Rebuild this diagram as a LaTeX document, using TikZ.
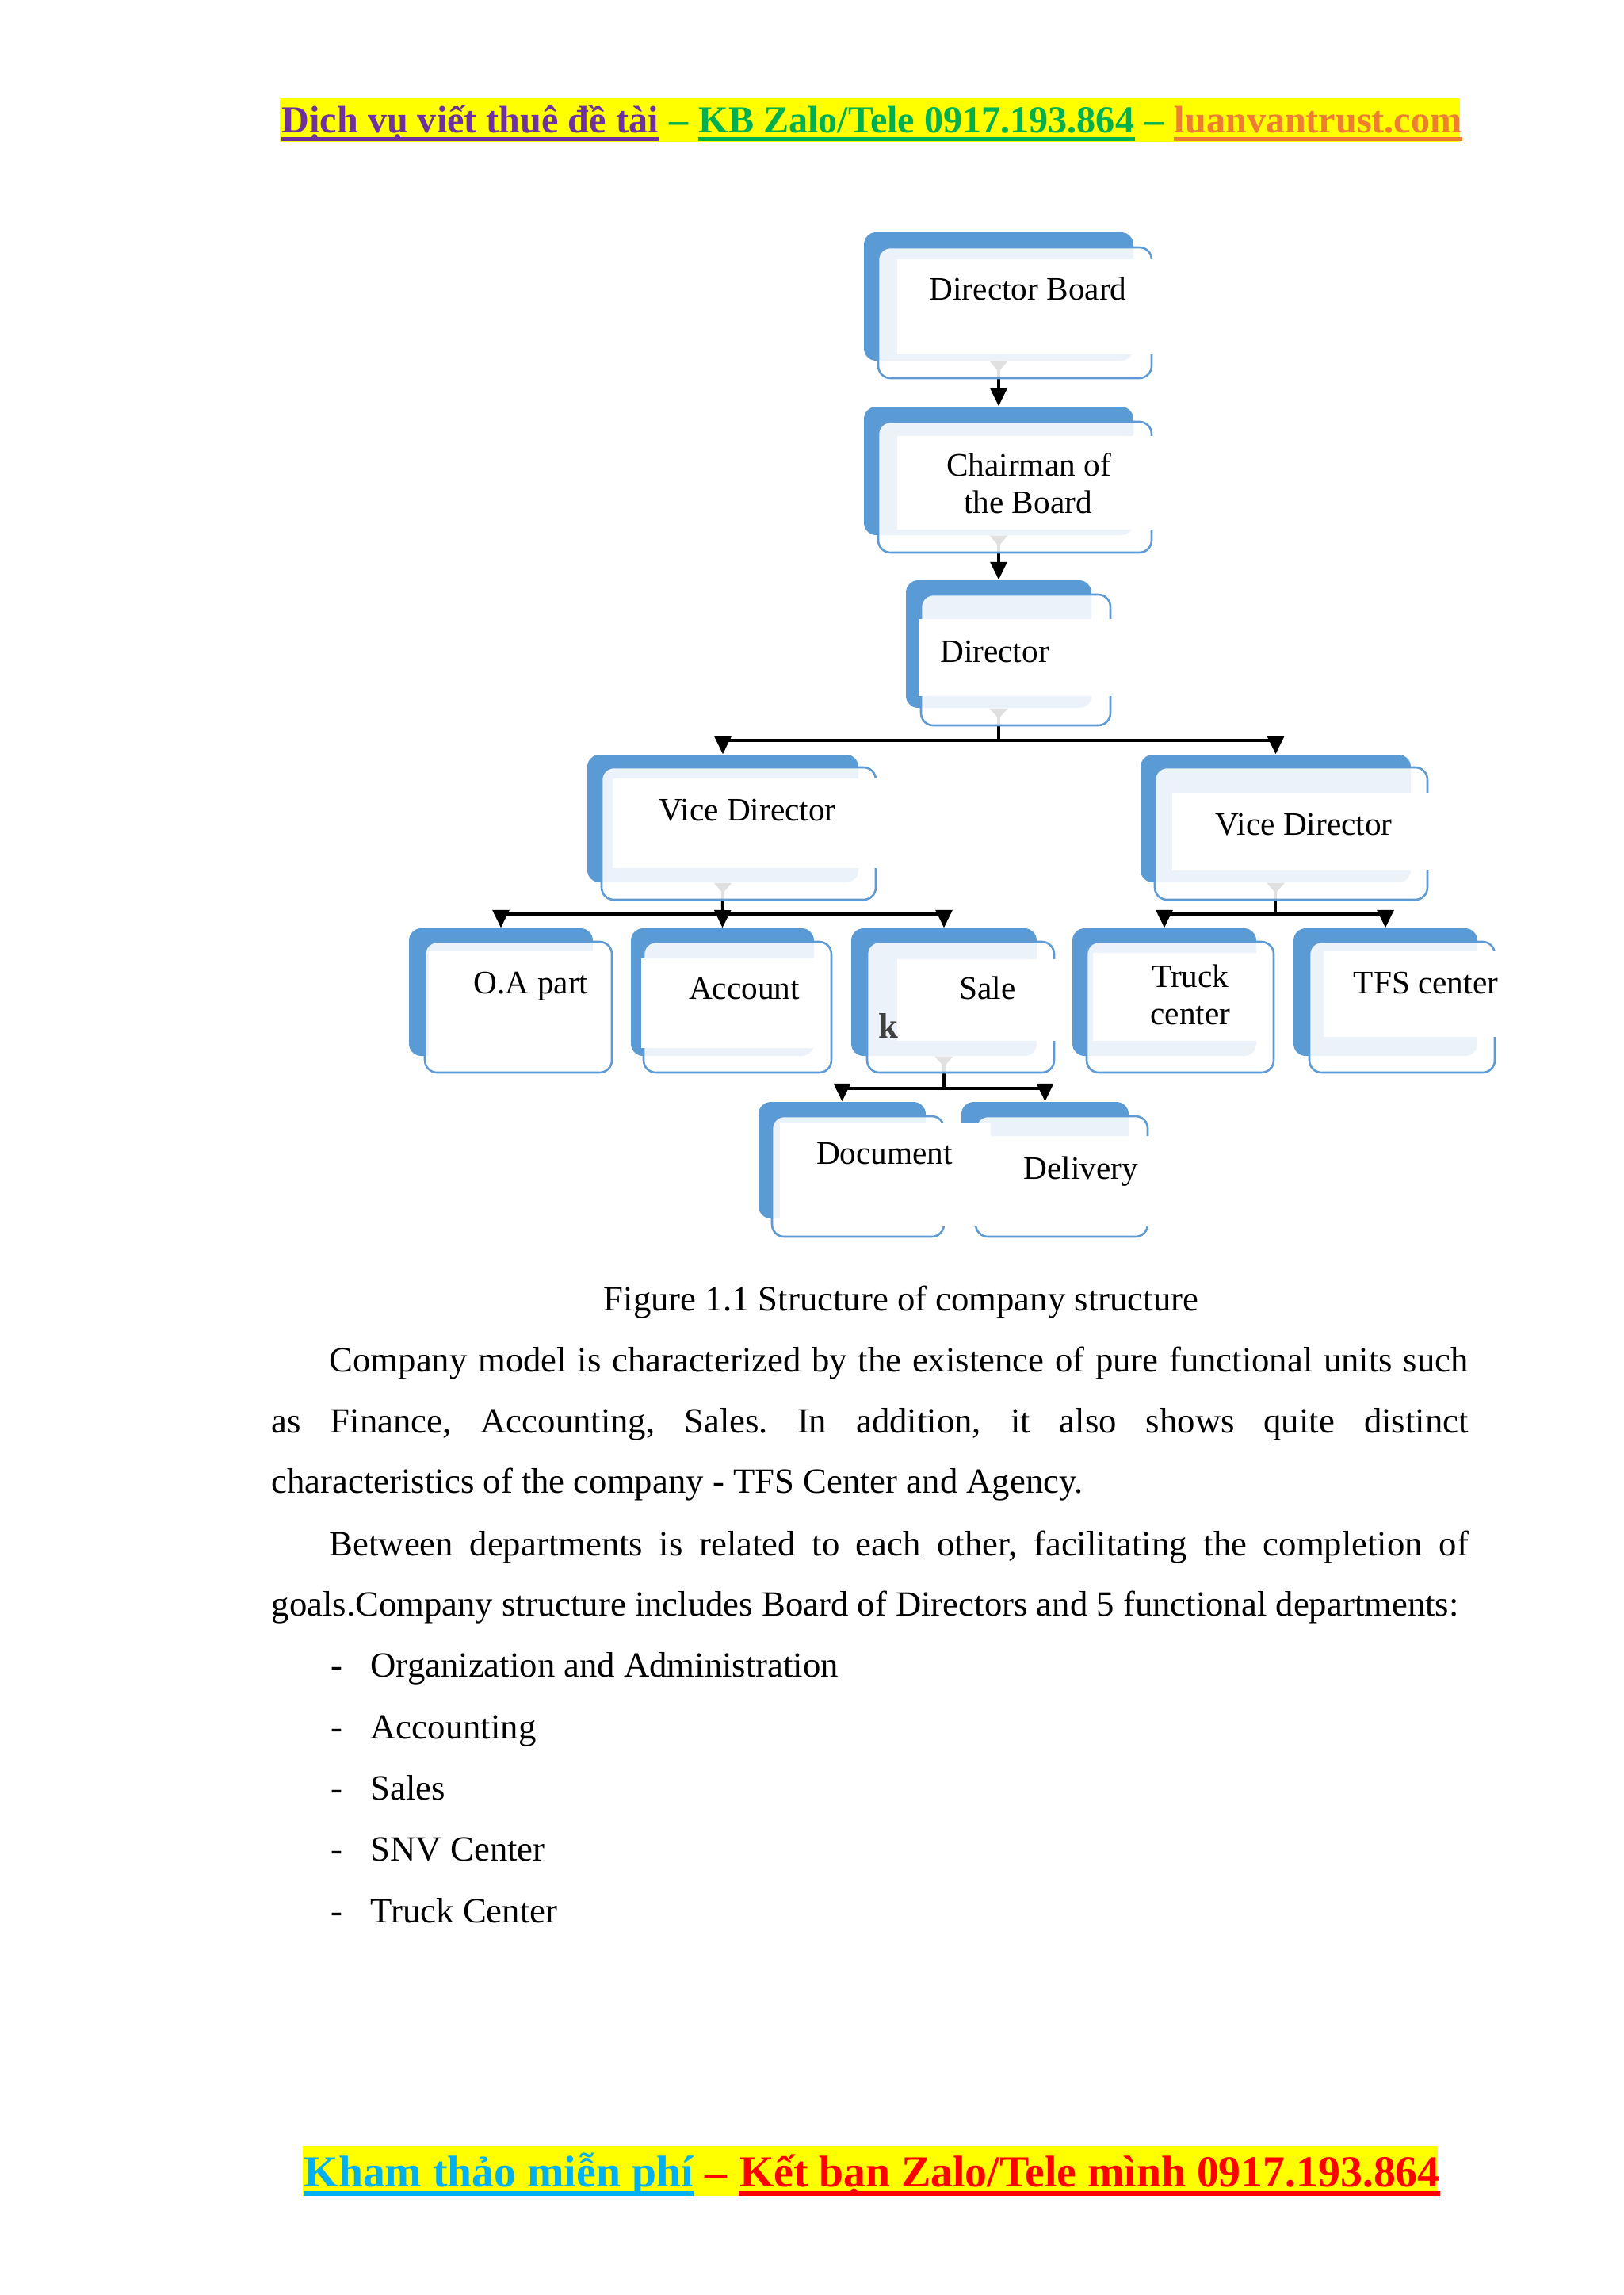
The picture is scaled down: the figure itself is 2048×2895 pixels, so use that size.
\documentclass[tikz,border=0pt]{standalone}
\usepackage{fontspec}
\setmainfont{Liberation Serif}
\usetikzlibrary{arrows.meta,fit}
\definecolor{boxblue}{HTML}{5B9BD5}
\definecolor{boxline}{HTML}{5E9AD3}
\definecolor{hpurple}{HTML}{7030A0}
\definecolor{hgreen}{HTML}{00B050}
\definecolor{horange}{HTML}{ED7D31}
\definecolor{fcyan}{HTML}{00B0F0}
\definecolor{fred}{HTML}{FF0000}
\definecolor{hyellow}{HTML}{FFFF00}
\definecolor{kgrey}{HTML}{404040}
\pgfdeclarelayer{paper}
\pgfdeclarelayer{background}
\pgfsetlayers{paper,background,main}
\newcommand{\orgbox}[7]{%
  \node[backbox, fit={#2 #3}] (#1) {};
  \node[frontbox, fit={#4 #5}] (#1-f) {};
  \fill[white] #6 rectangle #7;
}
\frenchspacing
\begin{document}
\frenchspacing
\begin{tikzpicture}[x=0.29066pt,y=-0.29066pt,
  backbox/.style={fill=boxblue, rounded corners=4.5pt, inner sep=0pt, draw=none},
  frontbox/.style={draw=boxline, line width=0.75pt, fill=white, fill opacity=0.88, rounded corners=4.5pt, inner sep=0pt},
  boxtext/.style={font=\fontsize{12}{14}\selectfont, anchor=base, inner sep=0pt},
  conn/.style={line width=1.1pt, -{Triangle[length=6.5pt,width=6pt]}},
  connstart/.style={line width=1.1pt, {Triangle[reversed,length=3.8pt,width=6.4pt]}-{Triangle[length=6.5pt,width=6pt]}},
  hdr/.style={font=\fontsize{14}{16}\selectfont\bfseries, anchor=base west, inner sep=0pt},
  ftr/.style={font=\fontsize{16.2}{18}\selectfont\bfseries, anchor=base west, inner sep=0pt},
  body/.style={font=\fontsize{13}{15}\selectfont\frenchspacing, anchor=base west, inner sep=0pt}]
\begin{pgfonlayer}{paper}
\useasboundingbox[fill=white] (0,0) rectangle (2048,2895);
\end{pgfonlayer}

% header
\fill[hyellow] (353,124) rectangle (1842,179);
\node[hdr, text=hpurple] (h1) at (355,167) {Dịch vụ viết thuê đề tài};
\node[hdr, text=hgreen] (h2) at (h1.base east) {\kern0.25em–\kern0.25em\relax};
\node[hdr, text=hgreen] (h3) at (h2.base east) {KB Zalo/Tele 0917.193.864};
\node[hdr, text=hgreen] (h4) at (h3.base east) {\kern0.25em–\kern0.25em\relax};
\node[hdr, text=horange] (h5) at (h4.base east) {luanvantrust.com};
\draw[hpurple, line width=1.45pt] ([yshift=-2.5pt]h1.base west) -- ([yshift=-2.5pt]h1.base east);
\draw[hgreen, line width=1.45pt] ([yshift=-2.5pt]h3.base west) -- ([yshift=-2.5pt]h3.base east);
\draw[horange, line width=1.45pt] ([yshift=-2.5pt]h5.base west) -- ([yshift=-2.5pt]h5.base east);

% boxes
\orgbox{db}{(1090,293)}{(1430,455)}{(1108,312)}{(1453,477)}{(1132,327)}{(1456,447)}
\node[boxtext] (t-db) at (1297,378) {Director Board};
\orgbox{ch}{(1090,513)}{(1430,675)}{(1108,532)}{(1453,697)}{(1132,550)}{(1456,668)}
\node[boxtext] (t-ch1) at (1298,600) {Chairman of};
\node[boxtext] (t-ch2) at (1297,647) {the Board};
\orgbox{dir}{(1143,732)}{(1377,893)}{(1162,750)}{(1401,915)}{(1159,781)}{(1404,878)}
\node[boxtext] (t-dir) at (1255,835) {Director};
\orgbox{vda}{(741,952)}{(1083,1113)}{(759,968)}{(1105,1135)}{(773,982)}{(1108,1095)}
\node[boxtext] (t-vda) at (943,1035) {Vice Director};
\orgbox{vdb}{(1439,952)}{(1780,1113)}{(1457,968)}{(1801,1135)}{(1479,1000)}{(1804,1098)}
\node[boxtext] (t-vdb) at (1645,1053) {Vice Director};
\orgbox{oa}{(516,1171)}{(748,1332)}{(536,1188)}{(772,1353)}{(541,1200)}{(768,1335)}
\node[boxtext] (t-oa) at (670,1253) {O.A part};
\orgbox{acc}{(796,1171)}{(1027,1332)}{(812,1188)}{(1049,1353)}{(809,1209)}{(1030,1322)}
\node[boxtext] (t-acc) at (939,1260) {Account};
\orgbox{sale}{(1074,1171)}{(1308,1332)}{(1094,1188)}{(1330,1353)}{(1132,1210)}{(1333,1313)}
\node[boxtext] (t-sale) at (1246,1260) {Sale};
\node[anchor=base, inner sep=0pt, text=kgrey, font=\fontsize{13}{15}\selectfont\bfseries] (t-k) at (1121,1309) {k};
\orgbox{tr}{(1353,1171)}{(1585,1332)}{(1371,1188)}{(1607,1353)}{(1379,1202)}{(1585,1313)}
\node[boxtext] (t-tr1) at (1502,1245) {Truck};
\node[boxtext] (t-tr2) at (1502,1292) {center};
\orgbox{tfs}{(1632,1171)}{(1864,1332)}{(1652,1188)}{(1886,1353)}{(1670,1200)}{(1889,1308)}
\node[boxtext] (t-tfs) at (1799,1253) {TFS center};
\orgbox{doc}{(957,1390)}{(1168,1537)}{(974,1408)}{(1191,1560)}{(984,1416)}{(1194,1547)}
\node[boxtext] (t-doc) at (1116,1468) {Document};
\orgbox{del}{(1213,1390)}{(1424,1537)}{(1231,1408)}{(1448,1560)}{(1205,1433)}{(1451,1547)}
\fill[white] (1205,1416) rectangle (1250,1433);
\node[boxtext] (t-del) at (1364,1487) {Delivery};

% connectors (under the boxes)
\begin{pgfonlayer}{background}
\draw[connstart] (db.south) -- (ch.north);
\draw[connstart] (ch.south) -- (dir.north);
\draw[connstart] (dir.south) -- ++(0,40) -| (vda.north);
\draw[conn] (dir.south) ++(0,40) -| (vdb.north);
\draw[connstart] (vda.south) -- (acc.north);
\draw[conn] (vda.south) ++(0,39) -| (oa.north);
\draw[conn] (vda.south) ++(0,39) -| (sale.north);
\draw[connstart] (vdb.south) -- ++(0,39) -| (tr.north);
\draw[conn] (vdb.south) ++(0,39) -| (tfs.north);
\draw[connstart] (sale.south) -- ++(0,40) -| (doc.north);
\draw[conn] (sale.south) ++(0,40) -| (del.north);
\end{pgfonlayer}

% caption and body text
\node[body, anchor=base] (cap) at (1137,1653) {Figure 1.1 Structure of company structure};
\node[body] (p1a) at (415,1730) {\makebox[417.7pt][s]{Company model is characterized by the existence of pure functional units such}};
\node[body] (p1b) at (342,1807) {\makebox[438.9pt][s]{as Finance, Accounting, Sales. In addition, it also shows quite distinct}};
\node[body] (p1c) at (342,1883) {characteristics of the company - TFS Center and Agency.};
\node[body] (p2a) at (415,1962) {\makebox[417.7pt][s]{Between departments is related to each other, facilitating the completion of}};
\node[body] (p2b) at (342,2038) {goals.Company structure includes Board of Directors and 5 functional departments:};
\node[body] (d1) at (417,2115) {-};
\node[body] (i1) at (467,2115) {Organization and Administration};
\node[body] (d2) at (417,2193) {-};
\node[body] (i2) at (467,2193) {Accounting};
\node[body] (d3) at (417,2270) {-};
\node[body] (i3) at (467,2270) {Sales};
\node[body] (d4) at (417,2347) {-};
\node[body] (i4) at (467,2347) {SNV Center};
\node[body] (d5) at (417,2425) {-};
\node[body] (i5) at (467,2425) {Truck Center};

% footer
\fill[hyellow] (382,2707) rectangle (1814,2770);
\node[ftr, text=fcyan] (f1) at (383,2758) {Kham thảo miễn phí};
\node[ftr, text=fred] (f2) at (f1.base east) {\kern0.25em–\kern0.25em\relax};
\node[ftr, text=fred] (f3) at (f2.base east) {Kết bạn Zalo/Tele mình 0917.193.864};
\draw[fcyan, line width=1.7pt] ([yshift=-2.6pt]f1.base west) -- ([yshift=-2.6pt]f1.base east);
\draw[fred, line width=1.7pt] ([yshift=-2.6pt]f3.base west) -- ([yshift=-2.6pt]f3.base east);
\end{tikzpicture}
\end{document}
